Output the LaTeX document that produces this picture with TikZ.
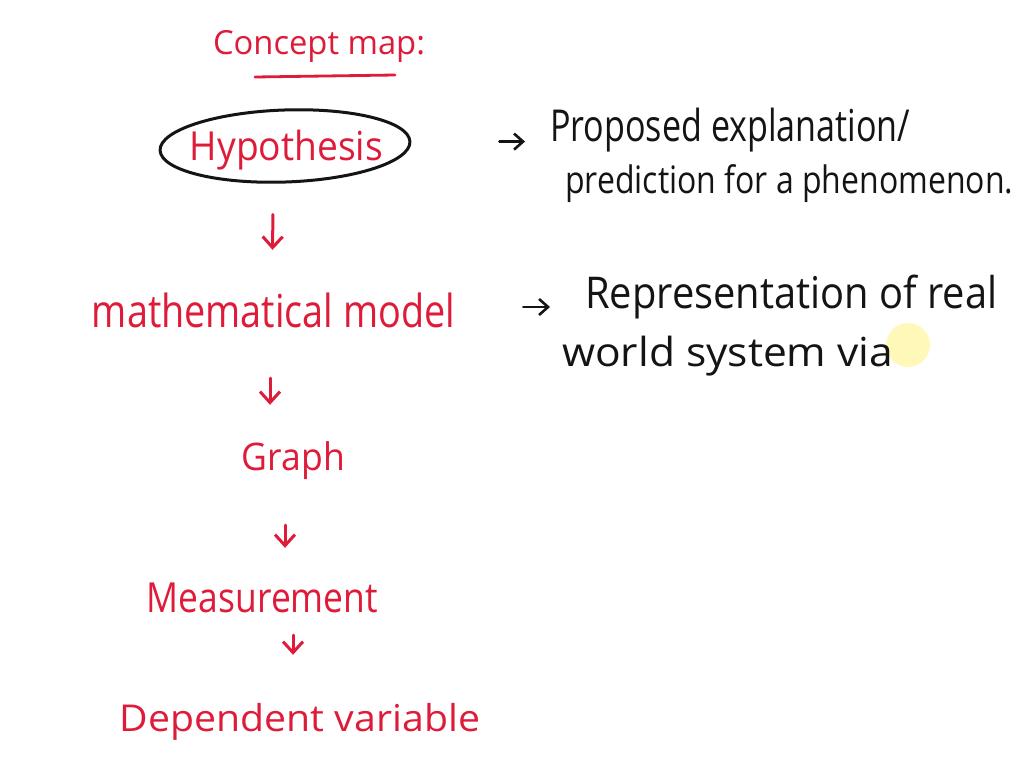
\documentclass[tikz,border=0pt]{standalone}
\usepackage{fontspec}
\setmainfont{Open Sans}
\usetikzlibrary{shapes.geometric,arrows.meta}
\definecolor{pen}{RGB}{222,28,58}
\definecolor{ink}{RGB}{20,20,20}
\definecolor{hl}{RGB}{255,248,185}
\newcommand{\fitbox}[3]{\resizebox*{#1pt}{#2pt}{#3}}
\tikzset{
  lbl/.style={inner sep=0pt},
  redtxt/.style={lbl, text=pen},
  blktxt/.style={lbl, text=ink, anchor=west},
  downarr/.style={draw=pen, line width=3pt, -{Straight Barb[length=11pt,width=20pt]}, line cap=round},
  sidearr/.style={draw=ink, line width=2.6pt, -{Straight Barb[length=9pt,width=16pt]}, line cap=round},
}
\begin{document}
\begin{tikzpicture}[x=1pt,y=-1pt]
\useasboundingbox (0,0) rectangle (1024,768);
\fill[white] (0,0) rectangle (1024,768);

% title
\node[redtxt] (title) at (319,46) {\fitbox{212}{32}{Concept map:}};
\draw[pen, line width=2.8pt, line cap=round] (255,77) -- (395,75);

% main chain
\node[ellipse, draw=ink, line width=3pt, minimum width=250pt, minimum height=72pt, inner sep=0pt, rotate=2] (hyp) at (285,146) {};
\node[redtxt] (hyptxt) at (286.5,150) {\fitbox{193}{40}{Hypothesis}};
\node[redtxt] (math) at (273.5,310.5) {\fitbox{363}{35}{mathematical model}};
\node[redtxt] (graph) at (293.5,461) {\fitbox{103}{38}{Graph}};
\node[redtxt] (meas) at (262.5,598) {\fitbox{231}{30}{Measurement}};
\node[redtxt] (dep) at (300,721.5) {\fitbox{360}{37}{Dependent variable}};

\draw[downarr, shorten <=31pt, shorten >=43pt] ([xshift=-13pt]hyp.south) -- ([xshift=-1.5pt]math.north);
\draw[downarr, shorten <=50pt, shorten >=37pt] ([xshift=-3.5pt]math.south) -- ([xshift=-23.5pt]graph.north);
\draw[downarr, shorten <=45pt, shorten >=35pt] ([xshift=-8.5pt]graph.south) -- ([xshift=22.5pt]meas.north);
\draw[downarr, shorten <=22pt, shorten >=48pt] ([xshift=30.5pt]meas.south) -- ([xshift=-7pt]dep.north);

% right-hand notes
\node[blktxt] (prop) at (550,130) {\fitbox{360}{44}{Proposed explanation/}};
\node[blktxt] (pred) at (565,184) {\fitbox{448}{38}{prediction for a phenomenon.}};
\node[blktxt] (rep) at (585,297.5) {\fitbox{412}{44}{Representation of real}};
\fill[hl] (908,345) circle (22pt);
\node[blktxt] (world) at (562,356) {\fitbox{331}{40}{world system via}};

\draw[sidearr, shorten <=88pt, shorten >=25pt] (hyp.east) -- (hyp.east -| prop.west);
\draw[sidearr, shorten <=68pt, shorten >=35pt] ([yshift=3.5pt]math.east) -- ([yshift=3.5pt]math.east -| rep.west);
\end{tikzpicture}
\end{document}
